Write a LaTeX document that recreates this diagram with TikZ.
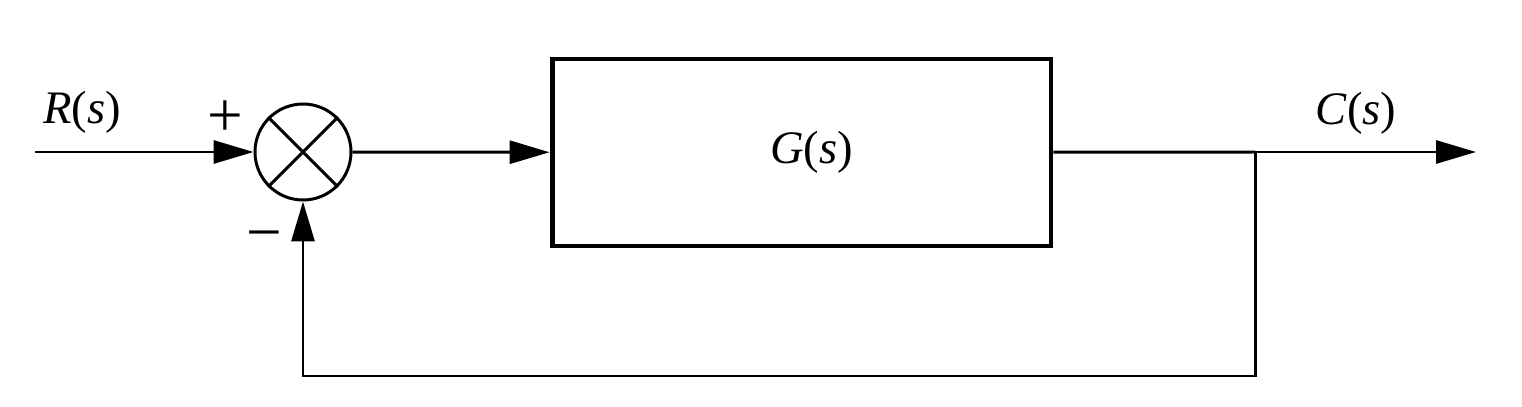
\documentclass[tikz,border=0pt]{standalone}
\usepackage{fontspec}
\setmainfont{Liberation Serif}
\usetikzlibrary{positioning}
\usetikzlibrary{arrows.meta}
\tikzset{%
	>={Triangle[length=0.8cm,width=0.46cm]},
	% Specifications for style of nodes:
	block/.style = {rectangle, draw=black, line width=2.8pt, minimum width=9.98cm, minimum height=3.74cm, text centered},
	sum/.style = {circle, draw=black, line width=1.7pt, minimum size=1.92cm, inner sep=0pt},
	sign/.style = {inner sep=0pt},
	pm/.style = {inner sep=0pt, font=\fontsize{36}{40}\selectfont},
	signal/.style = {line width=1.7pt},
}

\begin{document}
\begin{tikzpicture}[x=0.02cm,y=-0.02cm,font=\fontsize{26.5}{30}\selectfont]
		\useasboundingbox (0,0) rectangle (1522,406);
		\node (Sum) [sum] at (303,152) {};
		\node (G) [block] at (801.5,152.5) {\hspace{0.4cm}\textit{G}(\textit{s})};
		
		\coordinate (In) at (35,152);
		\coordinate (Branch) at (1255,152);
		\coordinate (Out) at (1476,152);
		\coordinate (Back) at (1255,376);
		
		\node (R) [sign] at (82,112) {\textit{R}(\textit{s})};
		\node (C) [sign] at (1356,113) {\textit{C}(\textit{s})};
		\node (Plus) [pm] at (225,119) {+};
		\node (Minus) [pm] at (264,242) {−};
		
		\draw [line width=1.7pt] (Sum.north west) -- (Sum.south east);
		\draw [line width=1.7pt] (Sum.north east) -- (Sum.south west);
		
		\draw [signal,->] (In) -- (Sum);
		\draw [signal,->] (Sum) -- (G);
		\draw [signal] (G) -- (Branch);
		\draw [signal,->] (Branch) -- (Out);
		\draw [signal,->] (Branch) -- (Back) -| (Sum.south);
		
     \end{tikzpicture}
\end{document}
